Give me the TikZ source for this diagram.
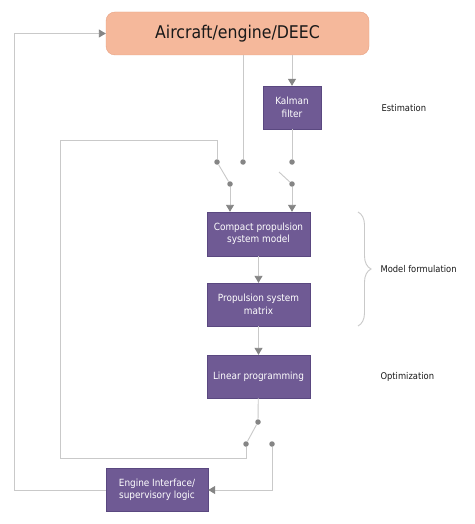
\documentclass[tikz,border=0pt]{standalone}
\usepackage{fontspec}
\setmainfont{DejaVu Sans Condensed}
\usetikzlibrary{arrows.meta,decorations.pathreplacing,calc}
\definecolor{boxpurple}{HTML}{6F5A94}
\definecolor{boxedge}{HTML}{5A4880}
\definecolor{salmon}{HTML}{F5B89B}
\definecolor{salmonedge}{HTML}{E8A283}
\definecolor{wirec}{HTML}{C9C9C9}
\definecolor{tipgray}{HTML}{858585}
\begin{document}
\begin{tikzpicture}[x=1pt,y=-1pt,
 box/.style={draw=boxedge, fill=boxpurple, text=white, font=\fontsize{9.9}{12.5}\selectfont, align=center, inner sep=0pt, minimum width=103pt, minimum height=43pt},
 wire/.style={draw=wirec, line width=0.9pt},
 arr/.style={wire, -{Triangle[width=8pt,length=7pt,color=tipgray,fill=tipgray]}},
 dot/.style={circle, fill=tipgray, inner sep=0pt, minimum size=5.5pt},
 lab/.style={font=\fontsize{9.3}{11}\selectfont, anchor=west, text=black!90}]
\useasboundingbox (0,0) rectangle (474,524);
\fill[white] (0,0) rectangle (474,524);
\node[draw=salmonedge, fill=salmon, rounded corners=9pt, minimum width=263pt, minimum height=43pt, font=\fontsize{17.5}{20}\selectfont, text=black!90] (top) at (237.5,33.5) {Aircraft/engine/DEEC};
\node[box, minimum width=58pt] (kal) at (292,107.5) {Kalman\\filter};
\node[box, minimum height=44pt] (cpsm) at (258.5,234) {Compact propulsion\\system model};
\node[box] (psm) at (258.5,304.5) {Propulsion system\\matrix};
\node[box] (lp) at (258.5,376.5) {Linear programming};
\node[box, minimum width=102pt] (eng) at (157,490) {Engine Interface/\\supervisory logic};
\node[dot] (d1) at (217,162) {};
\node[dot] (d2) at (243,162) {};
\node[dot] (d3) at (292,162) {};
\node[dot] (d4) at (230,184) {};
\node[dot] (d5) at (292,184) {};
\node[dot] (d6) at (258,422) {};
\node[dot] (d7) at (246,444) {};
\node[dot] (d8) at (272,444) {};
\coordinate (lA) at (60,140);
\coordinate (lB) at (60,458);
\coordinate (oA) at (14,490);
\coordinate (oB) at (14,33.5);
\draw[arr] (top.south -| kal.north) -- (kal.north);
\draw[wire] (top.south -| d2) -- (d2);
\draw[wire] (kal) -- (d3);
\draw[wire] (d1) -- (d4);
\draw[wire] (d5) -- ++(-13,-12);
\draw[arr] (d4) -- (d4 |- cpsm.north);
\draw[arr] (d5) -- (d5 |- cpsm.north);
\draw[arr] (cpsm) -- (psm);
\draw[arr] (psm) -- (lp);
\draw[wire] (lp) -- (d6);
\draw[wire] (d6) -- (d7);
\draw[wire] (d7) |- (lB) -- (lA) -| (d1);
\draw[arr] (d8) |- (eng.east);
\draw[arr] (eng.west) -- (oA) -- (oB) -- (top.west);
\draw[wire, decorate, decoration={brace, amplitude=13pt}] (358,212) -- (358,326);
\node[lab] (est) at (378,108) {Estimation};
\node[lab] (mf) at (377,269) {Model formulation};
\node[lab] (opt) at (377,377) {Optimization};
\end{tikzpicture}
\end{document}
